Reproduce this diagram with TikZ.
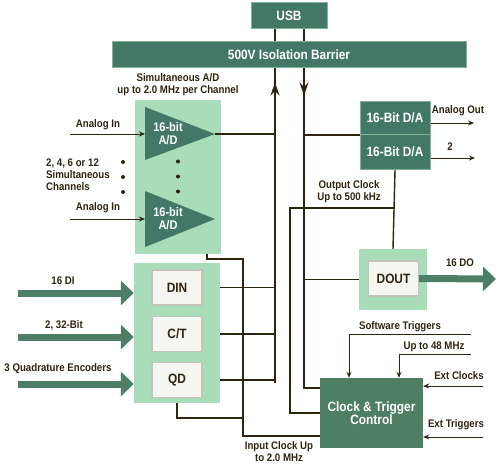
\documentclass[tikz,border=0pt]{standalone}
\usepackage{fontspec}
\setmainfont{Liberation Sans}[FakeStretch=0.88]
\usetikzlibrary{arrows.meta,decorations.markings}
\definecolor{boxdark}{HTML}{437866}
\definecolor{clkgreen}{HTML}{4E7F62}
\definecolor{panelgreen}{HTML}{A9DCB8}
\definecolor{fatgreen}{HTML}{4C7F66}
\definecolor{wirecol}{HTML}{2E2410}
\definecolor{boxwhite}{HTML}{F6F6F1}
\definecolor{boxshade}{HTML}{C4C4BA}
\newcommand{\lblfont}{\bfseries\fontsize{11}{12}\selectfont}
\newcommand{\boxfont}{\bfseries\fontsize{13.5}{13.5}\selectfont}
\tikzstyle{darkbox}=[fill=boxdark, draw=panelgreen!60!boxdark, line width=1pt, text=white, font=\boxfont, inner sep=0pt]
\tikzstyle{panel}=[fill=panelgreen, inner sep=0pt]
\tikzstyle{whitebox}=[fill=boxwhite, draw=boxshade, line width=1.2pt, font=\boxfont, text=wirecol, minimum width=50pt, minimum height=35pt, inner sep=0pt]
\tikzstyle{lbl}=[font=\lblfont, text=wirecol, inner sep=0pt, align=center]
\tikzstyle{wire}=[draw=wirecol, line width=1.4pt]
\tikzstyle{thin}=[draw=wirecol, line width=1pt, -{Stealth[length=6pt,width=5pt]}]
\tikzstyle{fat}=[draw=fatgreen, line width=7pt, -{Triangle[length=13pt,width=24pt]}]
\newcommand{\lbl}{\node[lbl]}

\begin{document}
\begin{tikzpicture}[x=1pt, y=-1pt]
            \useasboundingbox (0,0) rectangle (500,468);
            % boxes
            \node[darkbox, minimum width=76pt, minimum height=26pt] (usb) at (289,16) {USB};
            \node[darkbox, minimum width=354pt, minimum height=26pt] (barrier) at (289,55) {500V Isolation Barrier};
            \node[panel, minimum width=86pt, minimum height=154pt] (adpanel) at (178,177) {};
            \node[panel, minimum width=86pt, minimum height=140pt] (digpanel) at (177,333) {};
            \node[whitebox] (din) at (177,287.5) {DIN};
            \node[whitebox] (ct) at (177,334) {C/T};
            \node[whitebox] (qd) at (177,380) {QD};
            \node[darkbox, minimum width=70pt, minimum height=33pt] (da1) at (395,118) {16-Bit D/A};
            \node[darkbox, minimum width=70pt, minimum height=35pt] (da2) at (395,152) {16-Bit D/A};
            \node[panel, minimum width=68pt, minimum height=61pt] (doutpanel) at (393,279.5) {};
            \node[whitebox] (dout) at (393.5,278.5) {DOUT};
            \node[fill=clkgreen, text=white, font=\boxfont, align=center, minimum width=103pt, minimum height=70pt] (clk) at (371.5,413) {Clock \& Trigger\\Control};
            % A/D triangles
            \fill[boxdark] (145,107) -- (145,160) -- (215,134) -- cycle;
            \fill[boxdark] (145,191) -- (145,247) -- (215,219) -- cycle;
            \node[lbl, text=white, font=\bfseries\fontsize{12.5}{13}\selectfont] (ad1) at (168,134) {16-bit\\A/D};
            \node[lbl, text=white, font=\bfseries\fontsize{12.5}{13}\selectfont] (ad2) at (168,219) {16-bit\\A/D};
            \coordinate (ad1tip) at (215,134);
            \foreach \y in {162,177,192} {
                \fill[wirecol] (123,\y) circle (2pt);
                \fill[wirecol] (178,\y-0.5) circle (2pt);
            }
            % buses
            \coordinate (busA) at (275,383);
            \coordinate (busB) at (304,388);
            \coordinate (oclk) at (290,413);
            \coordinate (iclk) at (243,436);
            \draw[wire] (usb.south -| busA) -- (barrier.north -| busA);
            \draw[wire] (usb.south -| busB) -- (barrier.north -| busB);
            \draw[wire, postaction={decorate}, decoration={markings, mark=at position -14pt with {\arrow{Stealth[length=13pt,width=9pt]}}}]
                (busA) -- (barrier.south -| busA);
            \draw[wire, postaction={decorate}, decoration={markings, mark=at position 27pt with {\arrow{Stealth[length=13pt,width=9pt]}}}]
                (barrier.south -| busB) -- (busB) -- (clk.west |- busB);
            \path[wire]
                (ad1tip) edge (ad1tip -| busA)
                (din.east -| digpanel.east) edge (din.east -| busA)
                (ct.east -| digpanel.east) edge (ct.east -| busA)
                (qd.east -| digpanel.east) edge (qd.east -| busA)
                (busB |- da1.south west) edge (da1.south west)
                (busB |- doutpanel.west) edge (doutpanel.west)
                (da2.south) edge (doutpanel.north)
            ;
            \draw[wire] (adpanel.south -| 207,0) -- (207,259) -| (iclk) -- (clk.west |- iclk);
            \draw[wire] (digpanel.south -| qd) -- (177,418) -- (iclk |- 0,418);
            \draw[wire] (da2.south |- 0,208) -| (oclk) -- (clk.west |- oclk);
            % inputs and outputs
            \coordinate (aout) at (474,123);
            \coordinate (out2) at (475,158);
            \draw[thin] (70,134) -- (ad1tip -| 145,0);
            \draw[thin] (70,219) -- (145,219);
            \draw[thin] (da1.east |- aout) -- (aout);
            \draw[thin] (da2.east |- out2) -- (out2);
            \draw[thin] (471,334) -| (clk.north -| 349,0);
            \draw[thin] (471,354) -| (clk.north -| 399,0);
            \draw[thin] (483,386) -- (clk.east |- 0,386);
            \draw[thin] (483,437) -- (clk.east |- 0,437);
            \draw[fat] (18,293) -- (digpanel.west |- 0,293);
            \draw[fat] (18,337) -- (digpanel.west |- 0,337);
            \draw[fat] (18,384) -- (digpanel.west |- 0,384);
            \draw[fat] (dout.east) -- (496,279);
            % labels
            \lbl (tadc) at (178,85) {Simultaneous A/D\\up to 2.0 MHz per Channel};
            \lbl (tain1) at (98,125) {Analog In};
            \lbl (tain2) at (98,208) {Analog In};
            \lbl[anchor=west, align=left] (tchan) at (46,175) {2, 4, 6 or 12\\Simultaneous\\Channels};
            \lbl (tdi) at (63,281) {16 DI};
            \lbl (tct) at (64,325) {2, 32-Bit};
            \lbl (tqd) at (58,369) {3 Quadrature Encoders};
            \lbl (taout) at (458,111) {Analog Out};
            \lbl (ttwo) at (450,147) {2};
            \lbl (toclk) at (349,192) {Output Clock\\Up to 500 kHz};
            \lbl (tdo) at (460,263) {16 DO};
            \lbl (tsw) at (400,327) {Software Triggers};
            \lbl (t48) at (434,347) {Up to 48 MHz};
            \lbl (textc) at (459,376) {Ext Clocks};
            \lbl (textt) at (456,425) {Ext Triggers};
            \lbl (ticlk) at (279,452) {Input Clock Up\\to 2.0 MHz};
        \end{tikzpicture}
\end{document}
